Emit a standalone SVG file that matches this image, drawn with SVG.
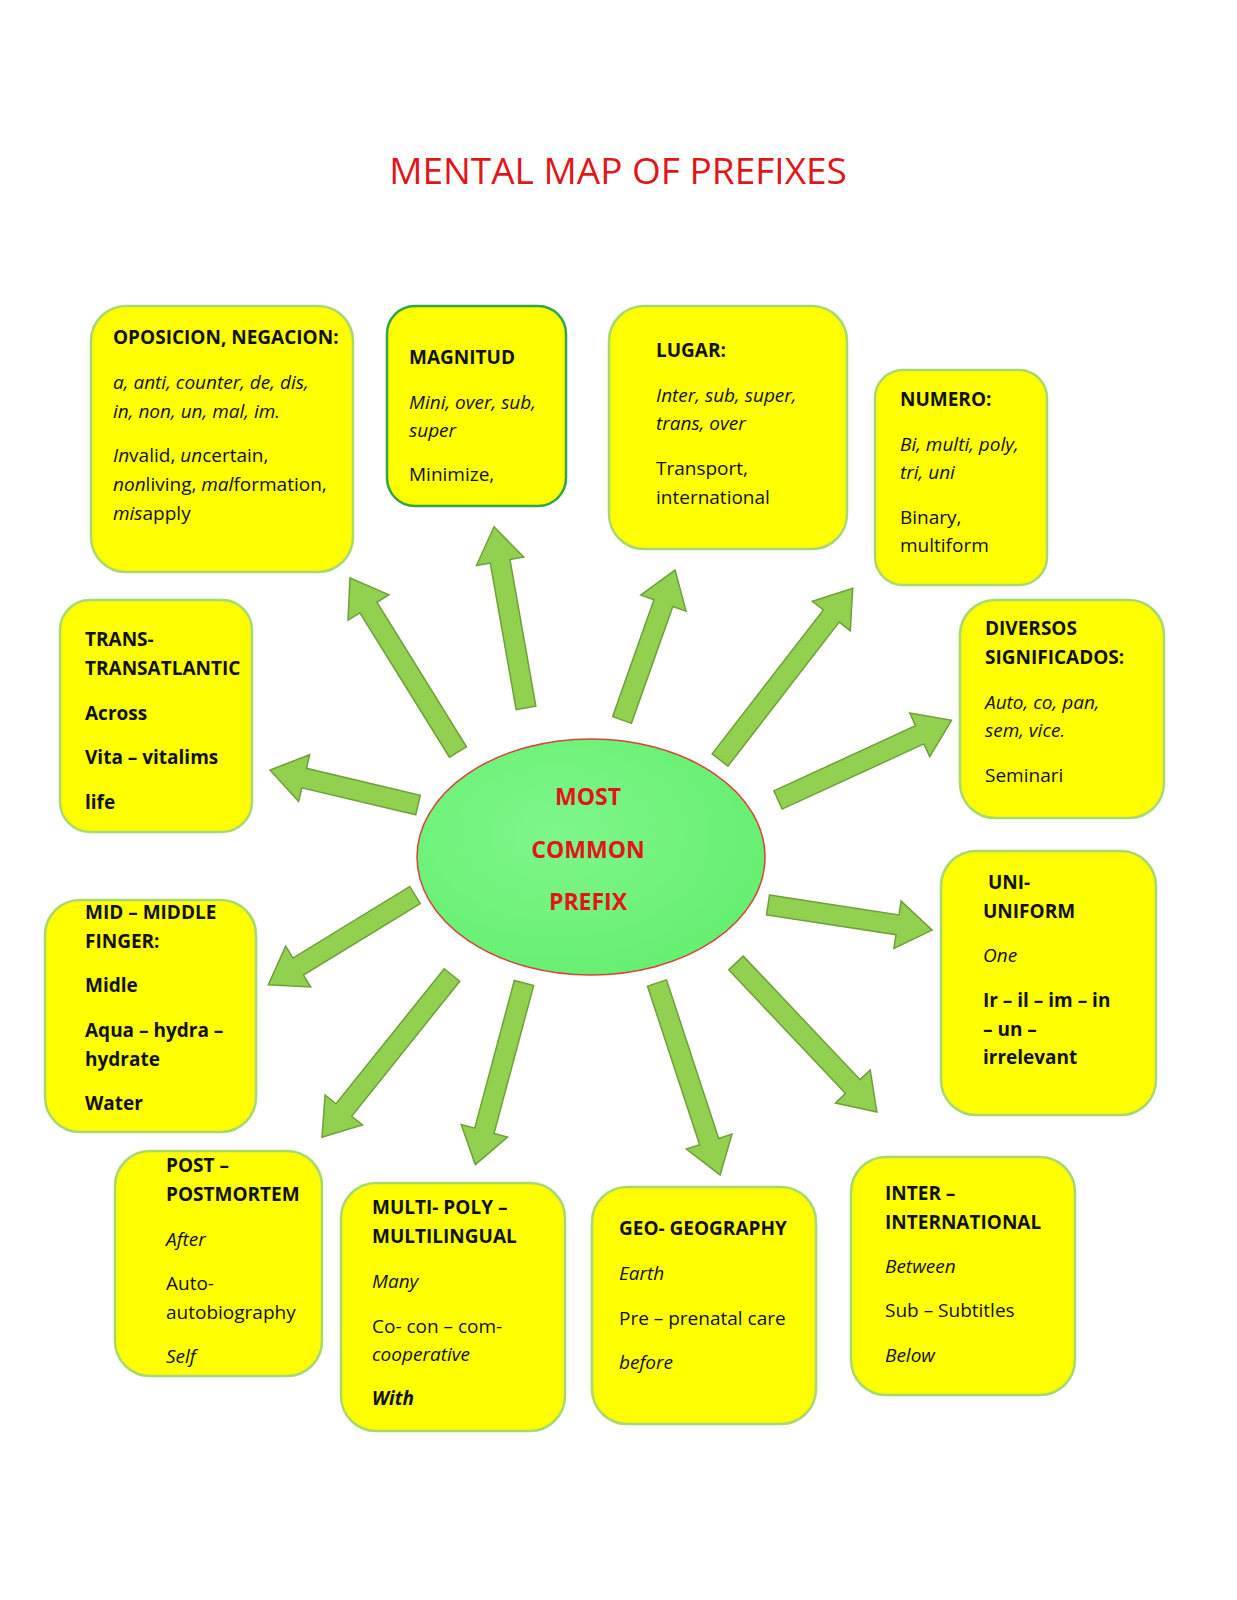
<svg xmlns="http://www.w3.org/2000/svg" width="1237" height="1600" viewBox="0 0 1237 1600">
<style>
.b{fill:#ffff00;stroke:#a9d86e;stroke-width:2.5}
.t{font-family:"Open Sans","Liberation Sans",sans-serif;font-size:19px;fill:#111}
.h{font-weight:bold}
.i{font-style:italic}
.a{fill:#92d050;stroke:#6f9f3a;stroke-width:1.5}
.c{font-family:"Open Sans","Liberation Sans",sans-serif;font-size:23px;font-weight:bold;fill:#e0161b;text-anchor:middle}
</style>
<defs>
<radialGradient id="g" cx="0.4" cy="0.4" r="0.7"><stop offset="0" stop-color="#7ef68a"/><stop offset="1" stop-color="#63ef6e"/></radialGradient>
</defs>
<rect width="1237" height="1600" fill="#fff"/>
<text x="618" y="184" text-anchor="middle" font-family="'Open Sans','Liberation Sans',sans-serif" font-size="37" fill="#e0161b">MENTAL MAP OF PREFIXES</text>
<g id="connectors">
<polygon class="a" transform="translate(458,752) rotate(-121.8)" points="0,-10 170,-10 170,-24 205,0 170,24 170,10 0,10"/>
<polygon class="a" transform="translate(526,708) rotate(-100)" points="0,-10 149,-10 149,-24 184,0 149,24 149,10 0,10"/>
<polygon class="a" transform="translate(622,720) rotate(-70.5)" points="0,-10 124,-10 124,-24 159,0 124,24 124,10 0,10"/>
<polygon class="a" transform="translate(720,760) rotate(-52.3)" points="0,-10 182,-10 182,-24 217,0 182,24 182,10 0,10"/>
<polygon class="a" transform="translate(778,800) rotate(-24.7)" points="0,-10 156,-10 156,-24 191,0 156,24 156,10 0,10"/>
<polygon class="a" transform="translate(418,805) rotate(193.3)" points="0,-10 117,-10 117,-24 152,0 117,24 117,10 0,10"/>
<polygon class="a" transform="translate(415,895) rotate(148.5)" points="0,-10 137,-10 137,-24 172,0 137,24 137,10 0,10"/>
<polygon class="a" transform="translate(452,975) rotate(128.7)" points="0,-10 173,-10 173,-24 208,0 173,24 173,10 0,10"/>
<polygon class="a" transform="translate(524,983) rotate(105)" points="0,-10 153,-10 153,-24 188,0 153,24 153,10 0,10"/>
<polygon class="a" transform="translate(657,983) rotate(71.8)" points="0,-10 167,-10 167,-24 202,0 167,24 167,10 0,10"/>
<polygon class="a" transform="translate(736,963) rotate(46.6)" points="0,-10 170,-10 170,-24 205,0 170,24 170,10 0,10"/>
<polygon class="a" transform="translate(768,905) rotate(8.7)" points="0,-10 131,-10 131,-24 166,0 131,24 131,10 0,10"/>
</g>
<g id="center">
<ellipse cx="591" cy="857" rx="174" ry="118" fill="url(#g)" stroke="#d8433b" stroke-width="1.5"/>
<text class="c" x="588" y="805">MOST</text>
<text class="c" x="588" y="858">COMMON</text>
<text class="c" x="588" y="910">PREFIX</text>
</g>
<g id="oposicion"><rect class="b" x="91" y="306" width="262" height="266" rx="35"/>
<text class="t h" x="113" y="344">OPOSICION, NEGACION:</text>
<text class="t i" x="113" y="389">a, anti, counter, de, dis,</text>
<text class="t i" x="113" y="418">in, non, un, mal, im.</text>
<text class="t" x="113" y="462"><tspan class="i">In</tspan>valid, <tspan class="i">un</tspan>certain,</text>
<text class="t" x="113" y="491"><tspan class="i">non</tspan>living, <tspan class="i">mal</tspan>formation,</text>
<text class="t" x="113" y="520"><tspan class="i">mis</tspan>apply</text></g>
<g id="magnitud"><rect class="b" x="387" y="306" width="179" height="200" rx="28" style="stroke:#2fa64a"/>
<text class="t h" x="409" y="364">MAGNITUD</text>
<text class="t i" x="409" y="409">Mini, over, sub,</text>
<text class="t i" x="409" y="437">super</text>
<text class="t" x="409" y="481">Minimize,</text></g>
<g id="lugar"><rect class="b" x="609" y="306" width="238" height="243" rx="35"/>
<text class="t h" x="656" y="357">LUGAR:</text>
<text class="t i" x="656" y="402">Inter, sub, super,</text>
<text class="t i" x="656" y="430">trans, over</text>
<text class="t" x="656" y="475">Transport,</text>
<text class="t" x="656" y="504">international</text></g>
<g id="numero"><rect class="b" x="875" y="370" width="172" height="215" rx="28"/>
<text class="t h" x="900" y="406">NUMERO:</text>
<text class="t i" x="900" y="451">Bi, multi, poly,</text>
<text class="t i" x="900" y="479">tri, uni</text>
<text class="t" x="900" y="524">Binary,</text>
<text class="t" x="900" y="552">multiform</text></g>
<g id="diversos"><rect class="b" x="960" y="600" width="204" height="218" rx="35"/>
<text class="t h" x="985" y="635">DIVERSOS</text>
<text class="t h" x="985" y="664">SIGNIFICADOS:</text>
<text class="t i" x="985" y="709">Auto, co, pan,</text>
<text class="t i" x="985" y="737">sem, vice.</text>
<text class="t" x="985" y="782">Seminari</text></g>
<g id="trans"><rect class="b" x="60" y="600" width="192" height="232" rx="30"/>
<text class="t h" x="85" y="646">TRANS-</text>
<text class="t h" x="85" y="675">TRANSATLANTIC</text>
<text class="t h" x="85" y="720">Across</text>
<text class="t h" x="85" y="764">Vita – vitalims</text>
<text class="t h" x="85" y="809">life</text></g>
<g id="mid"><rect class="b" x="45" y="900" width="211" height="232" rx="35"/>
<text class="t h" x="85" y="919">MID – MIDDLE</text>
<text class="t h" x="85" y="948">FINGER:</text>
<text class="t h" x="85" y="992">Midle</text>
<text class="t h" x="85" y="1037">Aqua – hydra –</text>
<text class="t h" x="85" y="1066">hydrate</text>
<text class="t h" x="85" y="1110">Water</text></g>
<g id="uni"><rect class="b" x="941" y="851" width="215" height="264" rx="35"/>
<text class="t h" x="988" y="889">UNI-</text>
<text class="t h" x="983" y="918">UNIFORM</text>
<text class="t i" x="983" y="962">One</text>
<text class="t h" x="983" y="1007">Ir – il – im – in</text>
<text class="t h" x="983" y="1036">– un –</text>
<text class="t h" x="983" y="1064">irrelevant</text></g>
<g id="post"><rect class="b" x="115" y="1151" width="207" height="225" rx="35"/>
<text class="t h" x="166" y="1172">POST –</text>
<text class="t h" x="166" y="1201">POSTMORTEM</text>
<text class="t i" x="166" y="1246">After</text>
<text class="t" x="166" y="1290">Auto-</text>
<text class="t" x="166" y="1319">autobiography</text>
<text class="t i" x="166" y="1363">Self</text></g>
<g id="multi"><rect class="b" x="341" y="1183" width="224" height="248" rx="35"/>
<text class="t h" x="372" y="1214">MULTI- POLY –</text>
<text class="t h" x="372" y="1243">MULTILINGUAL</text>
<text class="t i" x="372" y="1288">Many</text>
<text class="t" x="372" y="1333">Co- con – com-</text>
<text class="t i" x="372" y="1361">cooperative</text>
<text class="t h i" x="372" y="1405">With</text></g>
<g id="geo"><rect class="b" x="592" y="1187" width="224" height="237" rx="35"/>
<text class="t h" x="619" y="1235">GEO- GEOGRAPHY</text>
<text class="t i" x="619" y="1280">Earth</text>
<text class="t" x="619" y="1325">Pre – prenatal care</text>
<text class="t i" x="619" y="1369">before</text></g>
<g id="inter"><rect class="b" x="851" y="1157" width="224" height="238" rx="35"/>
<text class="t h" x="885" y="1200">INTER –</text>
<text class="t h" x="885" y="1229">INTERNATIONAL</text>
<text class="t i" x="885" y="1273">Between</text>
<text class="t" x="885" y="1317">Sub – Subtitles</text>
<text class="t i" x="885" y="1362">Below</text></g>
</svg>
